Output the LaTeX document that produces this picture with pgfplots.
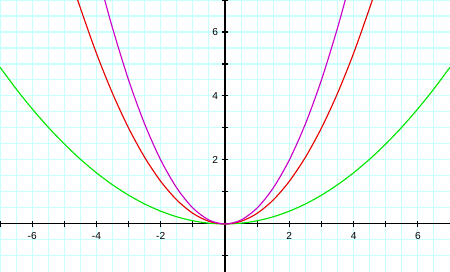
\documentclass[border=0pt]{standalone}
\usepackage{fontspec}
\setmainfont{Liberation Sans}
\usepackage{pgfplots}
\pgfplotsset{compat=1.18}
\definecolor{gridc}{RGB}{200,255,255}
\definecolor{cgreen}{RGB}{0,230,0}
\definecolor{cred}{RGB}{230,0,0}
\definecolor{cpurple}{RGB}{200,0,200}
\begin{document}
\begin{tikzpicture}
\begin{axis}[
  scale only axis,
  width=14cm, height=8.462cm,
  xmin=-7, xmax=7, ymin=-1.5, ymax=7,
  axis lines=middle,
  axis line style={-, black, line width=0.9pt},
  xtick={-7,...,7},
  xticklabels={,-6,,-4,,-2,,,,2,,4,,6,},
  ytick={-1,...,7},
  yticklabels={,,,2,,4,,6,},
  minor tick num=1,
  grid=both,
  major grid style={gridc, line width=0.9pt},
  minor grid style={gridc, line width=0.9pt},
  major tick length=5.5pt,
  minor tick length=0pt,
  tick align=center,
  tick style={black, line width=0.9pt},
  tick label style={font=\fontsize{9}{10}\selectfont},
  xticklabel style={yshift=-1pt},
  clip=true,
]
\addplot[cgreen, line width=1pt, smooth] coordinates {
(-7,4.9) (-6.5,4.225) (-6,3.6) (-5.5,3.025) (-5,2.5) (-4.5,2.025) (-4,1.6) (-3.5,1.225) (-3,0.9) (-2.5,0.625) (-2,0.4) (-1.5,0.225) (-1,0.1) (-0.5,0.025) (0,0)
(0.5,0.025) (1,0.1) (1.5,0.225) (2,0.4) (2.5,0.625) (3,0.9) (3.5,1.225) (4,1.6) (4.5,2.025) (5,2.5) (5.5,3.025) (6,3.6) (6.5,4.225) (7,4.9)};
\addplot[cred, line width=1pt, smooth] coordinates {
(-4.7,7.363) (-4.5,6.75) (-4,5.333) (-3.5,4.083) (-3,3) (-2.5,2.083) (-2,1.333) (-1.5,0.75) (-1,0.333) (-0.5,0.083) (0,0)
(0.5,0.083) (1,0.333) (1.5,0.75) (2,1.333) (2.5,2.083) (3,3) (3.5,4.083) (4,5.333) (4.5,6.75) (4.7,7.363)};
\addplot[cpurple, line width=1pt, smooth] coordinates {
(-3.8,7.22) (-3.5,6.125) (-3,4.5) (-2.5,3.125) (-2,2) (-1.5,1.125) (-1,0.5) (-0.5,0.125) (0,0)
(0.5,0.125) (1,0.5) (1.5,1.125) (2,2) (2.5,3.125) (3,4.5) (3.5,6.125) (3.8,7.22)};
\end{axis}
\pgfresetboundingbox
\path (current axis.south west) rectangle (current axis.north east);
\end{tikzpicture}
\end{document}
